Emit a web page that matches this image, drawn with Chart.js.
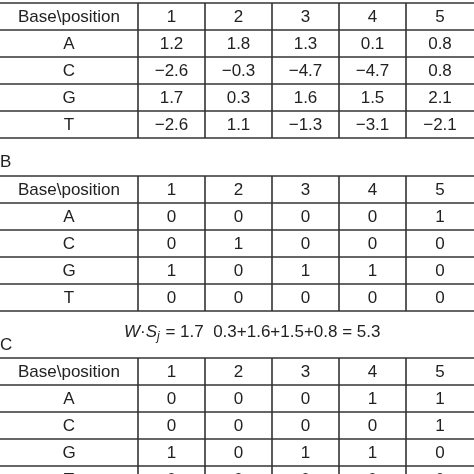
<!DOCTYPE html><html><head><meta charset="utf-8">
<script src="https://cdn.jsdelivr.net/npm/chart.js@4"></script>
<style>html,body{margin:0;padding:0;background:#fff}#w{width:474px;height:474px}</style></head><body>
<div id="w"><canvas id="c"></canvas></div>
<script>
const headers = ["Base\\position","1","2","3","4","5"];
const bases = ["A","C","G","T"];
const tableA = [["1.2","1.8","1.3","0.1","0.8"],["\u22122.6","\u22120.3","\u22124.7","\u22124.7","0.8"],["1.7","0.3","1.6","1.5","2.1"],["\u22122.6","1.1","\u22121.3","\u22123.1","\u22122.1"]];
const tableB = [["0","0","0","0","1"],["0","1","0","0","0"],["1","0","1","1","0"],["0","0","0","0","0"]];
const tableC = [["0","0","0","1","1"],["0","0","0","0","1"],["1","0","1","1","0"],["0","0","0","0","0"]];
const panelLabels = ["B","C"];
const formulaParts = ["W","\u00B7","S","j"," = 1.7  0.3+1.6+1.5+0.8 = 5.3"];
const colEdges = [0,138,205,272,339,406,474];
const tableTops = [3,176,358];
const rowH = 27;
const labelY = [162,345];
const formulaY = 332;

const tablePlugin = {id:'tbl', afterDraw(chart){
  const {ctx, scales:{x,y}} = chart;
  const X = v=>x.getPixelForValue(v), Y = v=>y.getPixelForValue(v);
  ctx.save();
  ctx.textAlign='center'; ctx.textBaseline='middle'; ctx.fillStyle='#222';
  const tables=[tableA,tableB,tableC];
  tables.forEach((t,ti)=>{
    const top=tableTops[ti];
    const rows=[headers,...t.map((r,i)=>[bases[i],...r])];
    ctx.strokeStyle='#333'; ctx.lineWidth=1.6;
    for(let r=0;r<=rows.length;r++){
      const yy=Y(top+r*rowH); if(yy>474)continue;
      ctx.beginPath();ctx.moveTo(X(0),yy);ctx.lineTo(X(474),yy);ctx.stroke();
    }
    for(let c=1;c<colEdges.length-1;c++){
      ctx.beginPath();ctx.moveTo(X(colEdges[c]),Y(top));ctx.lineTo(X(colEdges[c]),Y(Math.min(474,top+rows.length*rowH)));ctx.stroke();
    }
    ctx.font='17px "Liberation Sans", Arial, sans-serif';
    rows.forEach((row,ri)=>row.forEach((txt,ci)=>{
      const cx=(colEdges[ci]+colEdges[ci+1])/2;
      ctx.fillText(txt,X(cx),Y(top+ri*rowH+rowH/2+1));
    }));
  });
  ctx.textAlign='left'; ctx.font='17px "Liberation Sans", Arial, sans-serif';
  panelLabels.forEach((l,i)=>ctx.fillText(l,X(0),Y(labelY[i])));
  let fx=X(124), fy=Y(formulaY);
  const fonts=['italic 17px "Liberation Sans"','17px "Liberation Sans"','italic 17px "Liberation Sans"','italic 12px "Liberation Sans"','17px "Liberation Sans"'];
  formulaParts.forEach((p,i)=>{ctx.font=fonts[i];ctx.fillText(p,fx,fy+(i===3?5:0));fx+=ctx.measureText(p).width+(i===3?1:0);});
  ctx.restore();
}};

new Chart(document.getElementById('c'),{type:'scatter',data:{datasets:[{data:[]}]},
 options:{responsive:true,maintainAspectRatio:false,animation:false,layout:{padding:0},
  plugins:{legend:{display:false},tooltip:{enabled:false}},
  scales:{x:{type:'linear',min:0,max:474,display:false},y:{type:'linear',min:0,max:474,reverse:true,display:false}}},
 plugins:[tablePlugin]});
</script></body></html>
